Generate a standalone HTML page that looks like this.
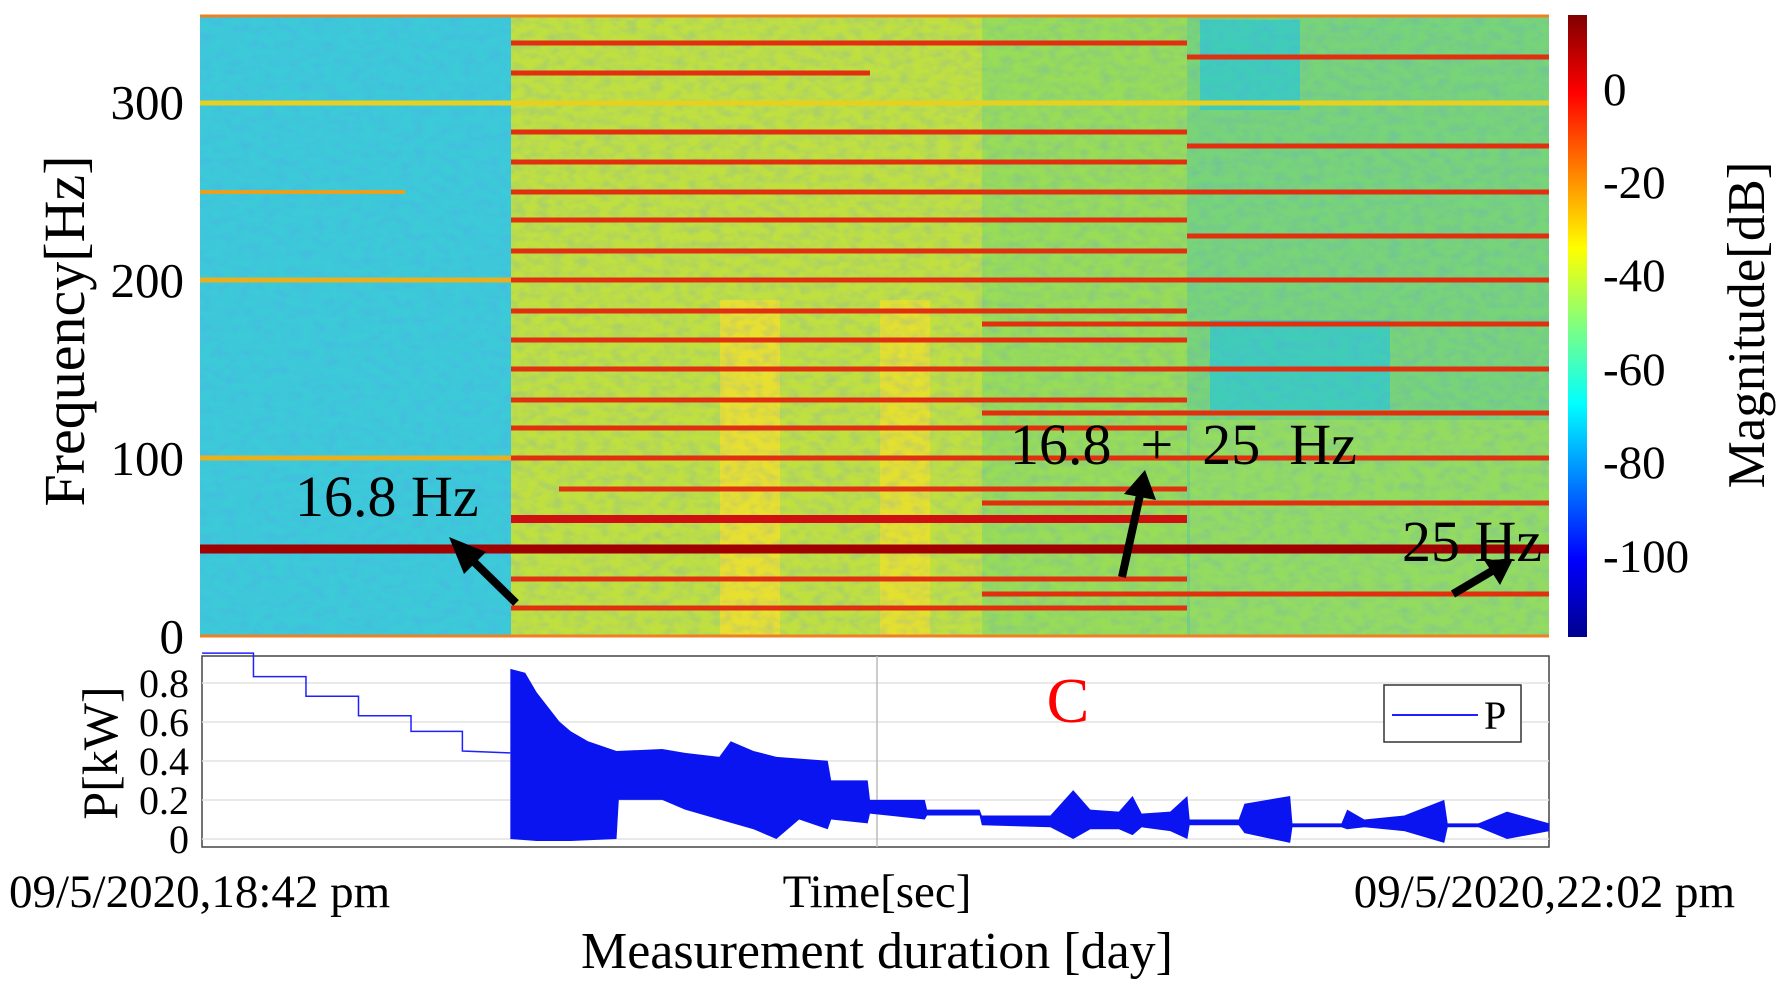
<!DOCTYPE html>
<html><head><meta charset="utf-8"><style>
html,body{margin:0;padding:0;background:#fff;}
svg{display:block;font-family:"Liberation Serif",serif;}
</style></head><body>
<svg width="1781" height="984" viewBox="0 0 1781 984" xmlns="http://www.w3.org/2000/svg">
<defs>
<linearGradient id="jet" x1="0" y1="1" x2="0" y2="0">
<stop offset="0" stop-color="#00008f"/><stop offset="0.125" stop-color="#0000ff"/>
<stop offset="0.375" stop-color="#00ffff"/><stop offset="0.625" stop-color="#ffff00"/>
<stop offset="0.875" stop-color="#ff0000"/><stop offset="1" stop-color="#800000"/>
</linearGradient>
<filter id="noise" x="0" y="0" width="1" height="1">
<feTurbulence type="fractalNoise" baseFrequency="0.08 0.12" numOctaves="2" seed="3"/>
<feColorMatrix type="matrix" values="0 0 0 0 0.1  0 0 0 0 0.3  0 0 0 0 0.9  0 0 0 -2.2 1.4"/>
<feComposite in2="SourceGraphic" operator="in"/>
</filter>
</defs>
<rect x="200" y="15" width="1349" height="622" fill="#a8e050"/>
<rect x="200" y="15" width="311" height="622" fill="#3ccad8"/>
<rect x="511" y="15" width="471" height="622" fill="#c0e040"/>
<rect x="720" y="300" width="60" height="337" fill="#e8e030"/>
<rect x="880" y="300" width="50" height="337" fill="#e4e030"/>
<rect x="982" y="15" width="205" height="622" fill="#98dc58"/>
<rect x="1187" y="15" width="362" height="622" fill="#78d478"/>
<rect x="1210" y="320" width="180" height="90" fill="#40cdb8"/>
<rect x="1200" y="20" width="100" height="90" fill="#40cdb8"/>
<rect x="1190" y="420" width="359" height="217" fill="#94dc60"/>
<rect x="200" y="15" width="1349" height="622" fill="#000" filter="url(#noise)" opacity="0.2"/>
<g stroke-linecap="butt">
<line x1="200" y1="103" x2="1549" y2="103" stroke="#e8d020" stroke-width="5"/>
<line x1="200" y1="280" x2="1549" y2="280" stroke="#e8b020" stroke-width="5"/>
<line x1="200" y1="458" x2="511" y2="458" stroke="#e8b020" stroke-width="5"/>
<line x1="200" y1="192" x2="405" y2="192" stroke="#e8a020" stroke-width="4"/>
<g stroke="#e03010" stroke-width="5">
<line x1="511" y1="608" x2="1187" y2="608"/>
<line x1="511" y1="579" x2="1187" y2="579"/>
<line x1="559" y1="489" x2="1187" y2="489"/>
<line x1="511" y1="458" x2="1549" y2="458"/>
<line x1="511" y1="428" x2="1187" y2="428"/>
<line x1="511" y1="400" x2="1187" y2="400"/>
<line x1="511" y1="369" x2="1549" y2="369"/>
<line x1="511" y1="340" x2="1187" y2="340"/>
<line x1="511" y1="311" x2="1187" y2="311"/>
<line x1="511" y1="280" x2="1549" y2="280"/>
<line x1="511" y1="251" x2="1187" y2="251"/>
<line x1="511" y1="220" x2="1187" y2="220"/>
<line x1="511" y1="192" x2="1549" y2="192"/>
<line x1="511" y1="162" x2="1187" y2="162"/>
<line x1="511" y1="132" x2="1187" y2="132"/>
<line x1="511" y1="73" x2="870" y2="73"/>
<line x1="511" y1="43" x2="1187" y2="43"/>
<line x1="982" y1="594" x2="1549" y2="594"/>
<line x1="982" y1="503" x2="1549" y2="503"/>
<line x1="982" y1="413" x2="1549" y2="413"/>
<line x1="982" y1="324" x2="1549" y2="324"/>
<line x1="1187" y1="236" x2="1549" y2="236"/>
<line x1="1187" y1="146" x2="1549" y2="146"/>
<line x1="1187" y1="57" x2="1549" y2="57"/>
</g>
<line x1="511" y1="519" x2="1187" y2="519" stroke="#d01010" stroke-width="8"/>
<line x1="200" y1="549" x2="1549" y2="549" stroke="#a00000" stroke-width="9"/>
<line x1="200" y1="16" x2="1549" y2="16" stroke="#f08020" stroke-width="3"/>
<line x1="200" y1="636" x2="1549" y2="636" stroke="#f08020" stroke-width="3"/>
</g>
<rect x="1568" y="15" width="19" height="622" fill="url(#jet)"/>
<g font-size="47" fill="#000">
<text x="1603" y="105">0</text>
<text x="1603" y="198">-20</text>
<text x="1603" y="291">-40</text>
<text x="1603" y="385">-60</text>
<text x="1603" y="478">-80</text>
<text x="1603" y="572">-100</text>
</g>
<text transform="translate(1764,325) rotate(-90)" font-size="53" text-anchor="middle">Magnitude[dB]</text>
<g font-size="49" text-anchor="end">
<text x="184" y="119">300</text>
<text x="184" y="297">200</text>
<text x="184" y="475">100</text>
<text x="184" y="653">0</text>
</g>
<text transform="translate(84,331) rotate(-90)" font-size="58" text-anchor="middle">Frequency[Hz]</text>
<g font-size="58">
<text x="295" y="516">16.8 Hz</text>
<text x="1010" y="464" xml:space="preserve">16.8  +  25  Hz</text>
<text x="1402" y="561">25 Hz</text>
</g>
<g stroke="#000" stroke-width="8" fill="#000">
<line x1="516" y1="603" x2="468" y2="556"/>
<polygon points="449,537 486,552 464,574" stroke="none"/>
<line x1="1122" y1="577" x2="1140" y2="495"/>
<polygon points="1145,470 1156,500 1124,494" stroke="none"/>
<line x1="1453" y1="594" x2="1492" y2="571"/>
<polygon points="1513,559 1500,585 1484,560" stroke="none"/>
</g>
<rect x="202" y="656" width="1347" height="191" fill="#fff" stroke="#444" stroke-width="1.5"/>
<g stroke="#e2e2e2" stroke-width="1.5">
<line x1="202" y1="839" x2="1549" y2="839"/>
<line x1="202" y1="800" x2="1549" y2="800"/>
<line x1="202" y1="761" x2="1549" y2="761"/>
<line x1="202" y1="722" x2="1549" y2="722"/>
<line x1="202" y1="683" x2="1549" y2="683"/>
</g>
<line x1="877" y1="656" x2="877" y2="847" stroke="#bbb" stroke-width="1.5"/>
<g transform="translate(0,839) scale(1.1417,-195.6)">
<polyline fill="none" stroke="#2020ff" stroke-width="1.5" vector-effect="non-scaling-stroke" points="177,0.95 222,0.95 222,0.83 268,0.83 268,0.73 314,0.73 314,0.63 360,0.63 360,0.55 405,0.55 405,0.45 447,0.44"/>
<polygon fill="#0a14f0" points="447,0.87 460,0.85 470,0.75 490,0.6 500,0.55 515,0.5 540,0.45 580,0.46 600,0.44 630,0.42 640,0.5 660,0.45 680,0.42 725,0.4 728,0.3 760,0.3 762,0.2 810,0.2 812,0.15 858,0.15 860,0.12 920,0.12 940,0.25 955,0.15 980,0.14 992,0.22 1000,0.13 1025,0.14 1040,0.22 1042,0.1 1085,0.1 1090,0.18 1130,0.22 1132,0.08 1175,0.08 1180,0.15 1195,0.1 1230,0.12 1265,0.2 1268,0.08 1295,0.08 1320,0.14 1357,0.08 1357,0.04 1320,0.0 1295,0.06 1268,0.06 1265,-0.02 1230,0.04 1195,0.06 1180,0.05 1175,0.06 1132,0.06 1130,-0.02 1090,0.03 1085,0.07 1042,0.07 1040,0.0 1025,0.04 1000,0.06 992,0.02 980,0.05 955,0.05 940,0.0 920,0.06 860,0.07 858,0.12 812,0.12 810,0.1 762,0.13 760,0.08 728,0.1 725,0.05 700,0.1 680,0.0 660,0.05 630,0.1 600,0.15 580,0.2 542,0.2 540,0.0 500,-0.01 470,-0.01 447,0.0"/>
</g>
<g font-size="40" text-anchor="end">
<text x="189" y="853">0</text>
<text x="189" y="814">0.2</text>
<text x="189" y="775">0.4</text>
<text x="189" y="736">0.6</text>
<text x="189" y="697">0.8</text>
</g>
<text transform="translate(117,753) rotate(-90)" font-size="50" text-anchor="middle">P[kW]</text>
<text x="1068" y="722" font-size="64" fill="#ff0000" text-anchor="middle">C</text>
<rect x="1384" y="685" width="137" height="57" fill="#fff" stroke="#333" stroke-width="1.5"/>
<line x1="1392" y1="715" x2="1478" y2="715" stroke="#2020ff" stroke-width="2"/>
<text x="1484" y="729" font-size="40">P</text>
<g font-size="47">
<text x="9" y="907">09/5/2020,18:42 pm</text>
<text x="877" y="907" text-anchor="middle">Time[sec]</text>
<text x="1735" y="907" text-anchor="end">09/5/2020,22:02 pm</text>
<text x="877" y="968" font-size="52" text-anchor="middle">Measurement duration [day]</text>
</g>
</svg>
</body></html>
